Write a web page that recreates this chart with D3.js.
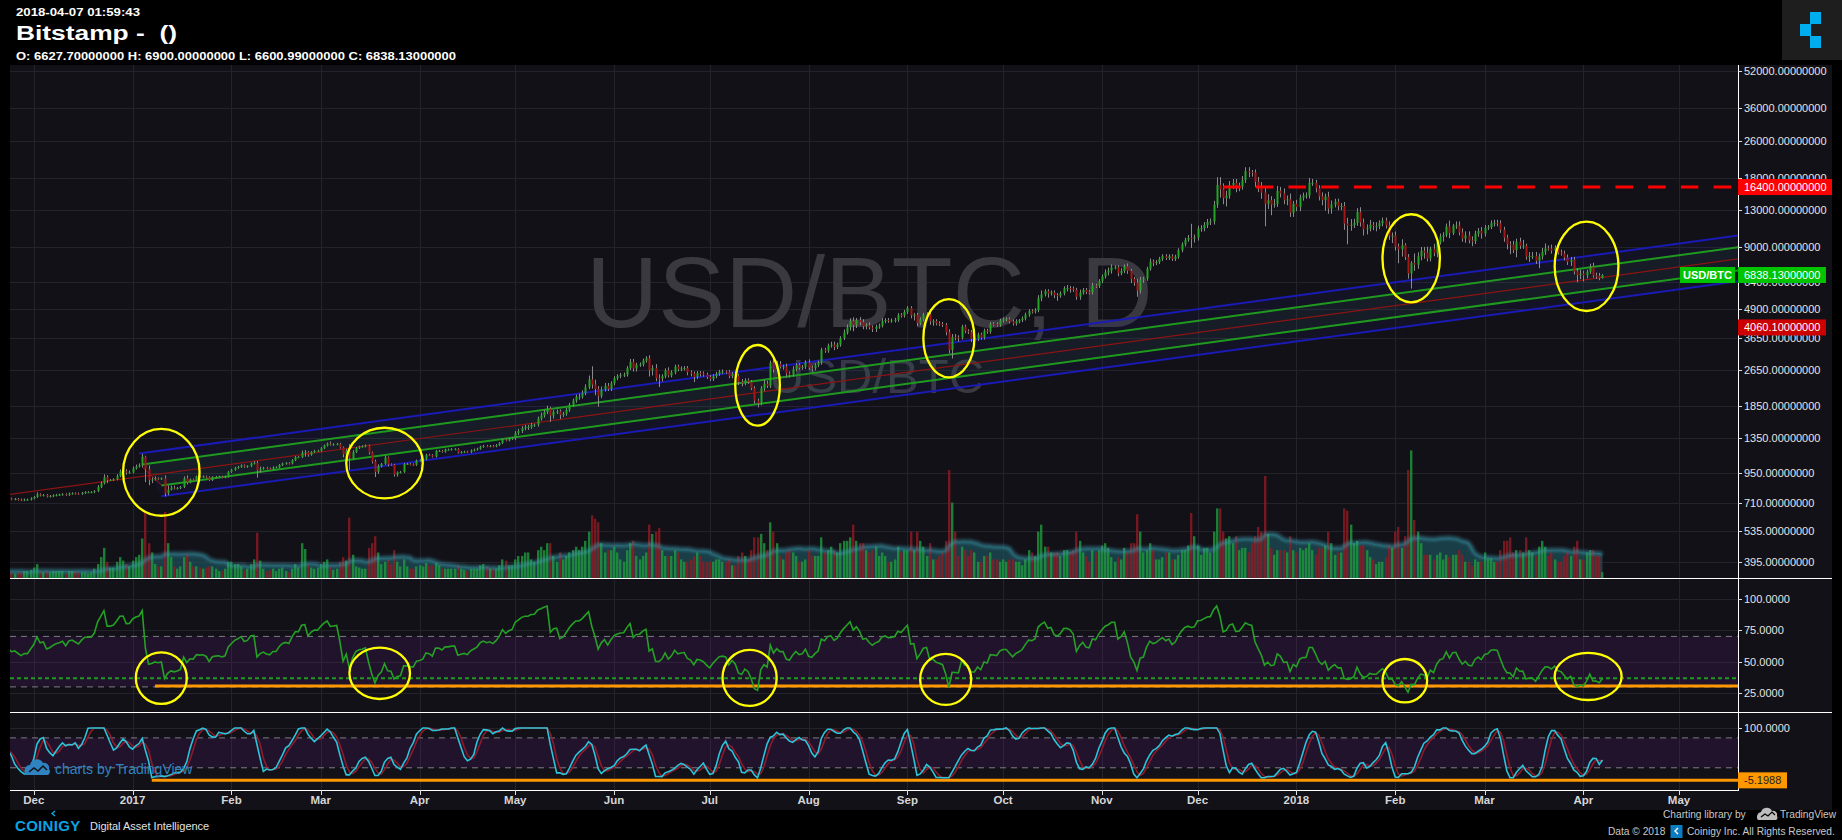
<!DOCTYPE html>
<html>
<head>
<meta charset="utf-8">
<title>Bitstamp USD/BTC</title>
<script src="https://cdnjs.cloudflare.com/ajax/libs/d3/7.8.5/d3.min.js"></script>
<style>
  html, body { margin: 0; padding: 0; background: #000; overflow: hidden; }
  svg { display: block; }
  text { font-family: "Liberation Sans", Arial, sans-serif; }
</style>
</head>
<body>
<svg id="chart" width="1842" height="840"></svg>
<script>
// one daily bar per entry, starting on this day (UTC); open = previous close
const firstDay = "2016-10-15";

const closes = [
  638,641,639,637,630,630,633,657,653,651,654,677,685,687,713,700,698,
  729,737,688,703,703,711,703,709,721,714,715,704,700,705,710,741,737,749,748,730,739,751,740,735,737,733,729,733,733,742,
  752,772,764,766,756,759,764,768,770,773,768,778,780,778,776,783,789,789,789,797,830,860,915,890,890,897,925,970,972,958,960,
  998,1018,1030,1122,990,890,895,905,900,905,780,810,825,818,822,830,905,870,895,893,922,920,922,915,890,915,918,920,915,920,965,
  985,1005,1015,1030,1015,1022,1050,1053,980,997,1005,998,995,1010,1010,1033,1048,1053,1050,1085,1118,1118,1170,1175,1145,1175,1190,1190,
  1222,1255,1280,1265,1270,1275,1230,1150,1190,1105,1175,1225,1240,1245,1255,1170,1070,965,1020,1045,1115,1040,1035,940,960,965,1045,1045,1040,1035,1080,
  1085,1095,1145,1140,1125,1190,1190,1180,1205,1205,1210,1210,1170,1175,1180,1175,1195,1205,1215,1240,1250,1245,1250,1245,1260,1285,1330,1320,1340,1350,
  1420,1450,1490,1510,1510,1540,1545,1640,1690,1750,1810,1690,1750,1760,1700,1720,1790,1880,1960,2040,2040,2110,2240,2420,2300,2200,2050,2190,2270,2200,2330,
  2450,2500,2530,2540,2710,2880,2700,2800,2810,2920,2990,2650,2710,2450,2440,2500,2650,2520,2600,2750,2680,2700,2710,2600,2570,2480,2580,2570,2540,2480,
  2430,2500,2560,2610,2620,2610,2500,2560,2510,2360,2330,2400,2360,2220,1960,1910,2220,2320,2270,2860,2670,2820,2750,2750,2570,2540,2680,2790,2720,2740,2870,
  2720,2700,2790,2860,3250,3220,3390,3420,3340,3420,3650,3860,4060,4320,4160,4370,4280,4110,4150,4060,4000,4090,4140,4320,4370,4340,4350,4380,4590,4570,4740,
  4920,4580,4600,4240,4400,4600,4630,4300,4320,4230,4200,4160,3870,3240,3690,3680,3670,4090,3910,3880,3620,3620,3780,3670,3930,3890,4200,4190,4170,4340,
  4400,4400,4310,4220,4320,4370,4440,4610,4770,4760,4820,5430,5640,5820,5690,5750,5600,5570,5700,5990,6010,5980,5900,5510,5740,5890,5770,5750,6150,6130,6440,
  6740,7020,7150,7380,7380,6960,7110,7450,7130,6570,6330,5860,6520,6590,7280,7820,7700,7780,8030,8240,8100,8240,8020,8200,8750,9280,9710,9890,9840,9930,
  10840,10890,11240,11590,11650,13750,16750,16050,14700,15060,16730,17090,16390,16470,17600,19200,19040,18950,17280,16420,15520,13880,14400,13770,13880,15800,15400,14400,14500,12700,13880,
  13440,14770,15060,15100,17100,17100,16200,14950,14400,14900,13240,13800,14180,13560,13580,11400,11180,11250,11500,12780,11530,10780,10880,11260,11120,11120,11440,11750,11200,10100,10130,
  9080,8830,9200,8180,6940,7700,7580,8240,8690,8550,8070,8880,8500,9450,10030,10160,11080,10380,11150,11200,10450,9820,10150,9660,9590,10310,10590,10330,
  10920,11020,11430,11500,11440,10720,9910,9290,9240,8770,9530,9140,9150,8200,8260,8270,7870,8220,8610,8910,8900,8720,8920,8550,8460,8140,7790,7950,7090,6840,6930,
  6820,7060,7430,6800,6780,6627.7,6838.13
];

// upper / lower shadow, percent beyond the candle body
const wickHi = [
  1,1,1,1,1,1,1,2,1,1,1,2,1,1,2,2,1,
  1,1,2,1,1,1,1,2,2,1,1,1,1,1,1,2,1,1,1,1,1,1,1,1,1,1,1,1,1,1,
  1,2,1,1,1,1,1,1,1,1,1,1,1,1,1,1,1,1,1,1,2,2,3,2,1,1,2,2,2,2,2,
  2,2,2,3,1,4,2,2,1,1,3,4,2,2,1,1,2,3,1,1,1,1,1,1,1,1,1,1,1,1,1,
  1,1,1,1,1,1,1,2,2,2,1,1,1,1,1,1,1,1,1,1,1,1,2,2,1,1,1,1,
  1,1,1,2,1,1,1,1,2,7,2,1,1,1,1,1,1,2,2,1,2,1,1,1,1,1,1,1,1,1,1,
  1,1,1,1,1,1,1,1,1,1,1,1,1,1,1,1,1,1,1,1,1,1,1,1,1,1,1,1,1,1,
  2,2,2,2,2,2,1,2,3,2,3,2,2,2,2,2,2,2,2,2,3,3,3,4,14,5,3,3,3,3,2,
  2,2,2,2,2,3,3,2,2,2,2,3,3,4,4,2,2,3,2,2,2,2,2,2,2,2,2,2,2,2,
  2,2,2,2,2,1,2,2,2,2,3,2,2,2,2,2,2,4,3,2,5,3,3,2,3,2,3,2,2,2,2,
  3,2,2,2,2,2,2,3,3,2,2,3,3,3,4,2,3,3,2,3,2,2,2,3,2,2,2,2,2,2,2,
  2,2,2,2,2,2,2,2,2,2,2,2,2,3,3,3,2,2,2,2,2,2,2,2,2,2,2,2,2,2,
  2,2,2,2,2,1,2,2,2,2,2,3,4,2,2,2,2,2,2,2,3,2,2,2,3,2,2,2,3,2,2,
  2,3,3,3,2,2,3,2,3,2,2,4,3,2,2,3,2,2,2,2,2,2,2,2,2,2,2,3,15,3,
  3,3,3,3,3,4,8,8,6,5,4,4,4,4,4,4,4,2,3,5,5,5,6,4,5,5,4,5,4,6,3,
  4,3,3,3,5,4,3,3,4,3,5,4,3,3,3,4,6,6,4,4,5,4,4,5,3,4,3,3,3,4,3,
  4,3,6,2,3,2,10,4,4,4,6,2,5,2,3,3,3,6,2,4,4,4,4,4,4,3,3,4,
  3,2,3,3,3,3,3,3,3,4,3,4,6,2,4,4,4,3,4,5,3,4,3,3,3,3,3,3,3,3,4,
  3,2,3,4,3,3,0.9
];
const wickLo = [
  1,1,1,1,1,1,1,1,1,1,1,1,1,1,1,2,1,
  1,1,3,1,1,1,1,2,2,1,1,1,1,1,1,1,1,1,1,1,1,1,1,1,1,1,1,1,1,1,
  1,1,1,1,1,1,1,1,1,1,1,1,1,1,1,1,1,1,1,1,1,1,1,3,1,1,1,1,2,2,1,
  1,1,1,2,12,5,3,1,1,1,3,2,1,1,1,1,1,2,1,1,1,1,1,1,1,1,1,1,1,1,1,
  1,1,1,1,1,1,1,1,7,2,1,1,1,1,1,1,1,1,1,1,1,1,1,4,2,1,1,1,
  1,1,1,1,1,1,1,3,2,11,1,1,1,1,1,2,2,5,2,1,1,2,1,2,2,1,1,1,1,1,1,
  1,1,1,1,1,1,1,1,1,1,1,1,1,1,1,1,1,1,1,1,1,1,1,1,1,1,1,1,1,1,
  2,2,2,2,3,2,2,2,2,2,2,6,3,2,4,2,2,2,2,2,3,2,2,2,4,6,10,2,2,2,2,
  2,2,2,2,2,2,3,3,2,2,2,6,5,3,8,3,2,2,2,2,2,2,2,3,3,5,2,3,2,2,
  2,2,2,2,2,2,2,2,2,3,3,2,2,2,3,4,2,3,2,2,3,2,2,3,4,3,2,2,2,2,2,
  2,3,2,2,2,2,2,2,3,2,2,2,2,3,6,3,3,3,3,2,3,3,2,2,2,2,2,2,2,2,2,
  2,3,5,3,2,2,2,3,4,2,2,2,3,3,8,3,4,2,2,2,3,2,2,2,2,2,2,2,2,2,
  2,2,2,2,2,2,2,2,2,2,2,2,3,2,4,2,3,5,2,2,3,4,2,3,3,2,2,2,2,2,2,
  2,2,3,3,2,3,2,2,3,4,3,6,3,3,2,2,3,2,2,2,2,2,2,2,2,2,2,2,9,4,
  3,3,3,3,3,3,3,8,6,8,3,4,5,4,3,3,5,4,5,5,6,20,5,10,3,3,4,4,5,4,4,
  4,4,3,3,3,3,4,4,5,10,5,5,3,4,4,6,17,5,3,3,4,6,5,3,4,5,3,3,3,4,7,
  4,13,7,3,5,14,6,4,4,6,3,3,3,4,2,5,2,5,2,3,3,3,4,3,5,3,3,5,
  3,2,2,3,3,3,4,5,9,3,7,3,3,3,5,3,3,7,3,3,2,3,5,2,2,3,3,4,3,7,4,
  6,3,2,2,3,2,0.4
];

// daily volume, thousands of BTC
const volumes = [
  4,3,4,4,4,3,3,5,4,4,4,6,5,5,7,5,5,
  7,6,9,6,5,5,5,8,10,6,5,4,5,6,6,8,6,7,5,6,5,7,6,5,4,5,5,6,6,7,
  9,12,6,5,6,5,6,6,6,6,4,6,6,6,5,5,5,4,5,8,12,18,26,14,9,9,14,18,15,12,10,
  15,18,20,34,57,30,22,12,10,10,57,30,18,10,8,10,18,20,14,10,10,9,8,9,10,10,8,6,6,8,14,
  14,12,12,10,7,8,12,16,39,15,8,6,7,8,6,8,9,6,5,8,12,9,30,25,12,9,8,9,
  12,14,16,10,7,8,14,18,15,52,20,10,9,8,8,26,30,36,22,12,14,16,12,24,14,10,16,10,8,8,10,
  11,10,13,11,11,13,11,8,8,8,8,8,11,8,7,6,8,8,8,11,12,10,8,8,8,11,16,15,11,11,
  16,19,19,22,22,16,14,24,27,24,30,30,19,14,22,16,19,22,24,27,24,27,32,40,54,51,48,30,22,24,24,
  27,22,16,14,24,30,32,19,16,19,22,46,38,40,43,24,19,19,19,24,22,16,14,14,16,19,22,19,14,14,
  14,14,16,16,14,14,16,11,11,19,22,19,16,24,35,35,38,30,24,48,40,30,19,16,22,24,22,19,14,14,16,
  24,19,19,19,35,22,24,27,24,22,30,32,32,35,46,32,30,30,24,22,24,27,19,22,19,14,14,16,27,22,24,
  24,40,24,40,32,27,19,30,16,16,19,22,32,93,65,40,19,27,24,19,24,22,14,14,19,19,22,16,16,14,
  16,14,16,16,14,14,11,16,24,22,19,40,46,27,27,22,22,22,19,24,24,22,24,40,32,22,19,14,24,22,24,
  28,30,26,18,14,18,16,26,22,30,30,55,40,22,24,30,24,16,16,18,22,22,16,16,20,24,24,28,56,36,
  28,20,26,26,22,40,60,60,40,34,36,30,36,24,26,26,22,30,36,44,40,88,38,26,20,24,24,24,22,36,24,
  22,26,24,26,30,24,20,26,26,28,40,30,20,22,22,60,58,46,30,32,28,28,24,18,16,12,14,14,18,28,26,
  40,44,26,36,93,110,50,40,30,20,20,20,16,20,22,16,20,18,20,20,24,20,14,14,10,16,14,14,
  22,17,17,14,14,24,32,32,35,22,24,24,22,35,24,22,19,27,32,27,19,22,16,14,14,19,22,19,27,32,16,
  16,22,24,24,19,19,5
];

const lastOHLC = [6627.70, 6900.00, 6600.99, 6838.13];
const stamp = "2018-04-07 01:59:43";

const priceTicks = [395, 535, 710, 950, 1350, 1850, 2650, 3650, 4900, 6400, 9000, 13000, 18000, 26000, 36000, 52000];
const rsiTicks = [100, 75, 50, 25];
const stochTicks = [100];
const rsiBand = [30, 70];
const stochBand = [20, 80];

// drawn lines: [date, price]
const medianLine = [["2016-11-23", 770], ["2018-05-20", 8040]];
const upperBlue = [["2017-01-03", 1158], ["2018-05-20", 10150]];
const upperGreen = [["2017-01-04", 1039], ["2018-05-20", 9035]];
const lowerGreen = [["2017-01-10", 843], ["2018-05-20", 7170]];
const lowerBlue = [["2017-01-10", 757], ["2018-05-20", 6440]];
const anchorLine = [["2017-01-04", 1013], ["2017-01-10", 847]];
const resistance = { from: "2017-12-09", price: 16400 };
const supportLabel = 4060.10;
const rsiSupport = { from: "2017-01-08", value: 30.8 };
const rsiDotted = 36.85;
const stochSupport = { from: "2017-01-07", value: -5.1988 };

// yellow marks: [from, to, low, high]
const priceCircles = [
  ["2016-12-29", "2017-01-22", 624, 1479],
  ["2017-03-09", "2017-04-02", 742, 1497],
  ["2017-07-09", "2017-07-23", 1528, 3409],
  ["2017-09-06", "2017-09-22", 2472, 5385],
  ["2018-01-28", "2018-02-15", 5210, 12510],
  ["2018-03-23", "2018-04-12", 4780, 11620]
];
const rsiCircles = [
  ["2017-01-02", "2017-01-18", 16.5, 57.4],
  ["2017-03-10", "2017-03-29", 20.4, 61.1],
  ["2017-07-05", "2017-07-22", 14.9, 59.3],
  ["2017-09-05", "2017-09-21", 15.7, 56.1],
  ["2018-01-28", "2018-02-11", 17.7, 52.1],
  ["2018-03-23", "2018-04-13", 19.6, 56.9]
];

const svg = d3.select("#chart");
const DAY = 864e5;
const t0 = Date.parse(firstDay);
const day = s => new Date(s);

const bars = closes.map((c, i) => {
  const o = i === 0 ? c : closes[i - 1];
  const top = Math.max(o, c), bot = Math.min(o, c);
  return {
    date: new Date(t0 + i * DAY), open: o, close: c,
    high: top * (1 + wickHi[i] / 100), low: bot * (1 - wickLo[i] / 100),
    volume: volumes[i]
  };
});

// layout
const left = 10, right = 1738, axisRight = 1832;
const mainP = { top: 65, bottom: 578 };
const rsiP = { top: 578, bottom: 712 };
const stP = { top: 712, bottom: 790 };
const bg = "#131118";

const x = d3.scaleUtc().domain([Date.UTC(2016, 10, 23, 13), Date.UTC(2018, 4, 19, 12)]).range([left, right]);
const y = d3.scaleLog().domain([336, 55200]).range([mainP.bottom, mainP.top]);
const yVol = d3.scaleLinear().domain([0, 100]).range([mainP.bottom, mainP.bottom - 116]);
const yRsi = d3.scaleLinear().domain([10.1, 116.3]).range([rsiP.bottom, rsiP.top]);
const ySt = d3.scaleLinear().domain([-24.6, 132]).range([stP.bottom, stP.top]);

// indicators
function calcRsi(vals, n) {
  const out = vals.map(() => null);
  let g = 0, l = 0;
  for (let i = 1; i < vals.length; i++) {
    const ch = vals[i] - vals[i - 1];
    const up = Math.max(ch, 0), dn = Math.max(-ch, 0);
    if (i <= n) {
      g += up / n; l += dn / n;
      if (i === n) out[i] = 100 - 100 / (1 + g / l);
    } else {
      g = (g * (n - 1) + up) / n;
      l = (l * (n - 1) + dn) / n;
      out[i] = l === 0 ? 100 : 100 - 100 / (1 + g / l);
    }
  }
  return out;
}
function sma(vals, n) {
  return vals.map((v, i) => {
    if (i < n - 1) return null;
    const win = vals.slice(i - n + 1, i + 1);
    if (win.some(w => w == null)) return null;
    return d3.mean(win);
  });
}
const rsi = calcRsi(closes, 14);
const stochRaw = rsi.map((r, i) => {
  if (i < 27) return null;
  const win = rsi.slice(i - 13, i + 1);
  const lo = d3.min(win), hi = d3.max(win);
  return hi === lo ? 50 : (r - lo) / (hi - lo) * 100;
});
const kLine = sma(stochRaw, 3);
const dLine = sma(kLine, 3);
const volMa = sma(volumes, 20);

const defs = svg.append("defs");
[["clipMain", mainP], ["clipRsi", rsiP], ["clipSt", stP]].forEach(([id, p]) => {
  defs.append("clipPath").attr("id", id).append("rect")
    .attr("x", left).attr("y", p.top).attr("width", right - left).attr("height", p.bottom - p.top);
});
defs.append("filter").attr("id", "glow").attr("x", "-5%").attr("y", "-50%").attr("width", "110%").attr("height", "200%")
  .append("feGaussianBlur").attr("stdDeviation", 1.6);

// backgrounds
svg.append("rect").attr("width", 1842).attr("height", 840).attr("fill", "#000");
svg.append("rect").attr("x", left).attr("y", mainP.top).attr("width", axisRight - left).attr("height", 810 - mainP.top).attr("fill", bg);

// header
const headFont = "'DejaVu Sans', Verdana, sans-serif";
svg.append("text").attr("x", 16).attr("y", 16).text(stamp)
  .attr("font-family", headFont).attr("font-weight", "bold").attr("font-size", 11).attr("fill", "#fff")
  .attr("textLength", 124).attr("lengthAdjust", "spacingAndGlyphs");
svg.append("text").attr("x", 16).attr("y", 39.5).text("Bitstamp -\u00a0\u00a0()")
  .attr("font-family", headFont).attr("font-weight", "bold").attr("font-size", 20).attr("fill", "#fff")
  .attr("textLength", 161).attr("lengthAdjust", "spacingAndGlyphs");
svg.append("text").attr("x", 16).attr("y", 60)
  .text(["O", "H", "L", "C"].map((k, i) => `${k}: ${lastOHLC[i].toFixed(8)}`).join(" "))
  .attr("font-family", headFont).attr("font-weight", "bold").attr("font-size", 11.5).attr("fill", "#fff")
  .attr("textLength", 440).attr("lengthAdjust", "spacingAndGlyphs");

// top right logo
svg.append("rect").attr("x", 1782).attr("y", 0).attr("width", 60).attr("height", 60).attr("fill", "#1e1e1e");
[[1810, 12], [1800, 24], [1810, 36]].forEach(([px, py]) => {
  svg.append("rect").attr("x", px).attr("y", py).attr("width", 11).attr("height", 12).attr("fill", "#00aeef");
});

// grid
const months = d3.utcMonth.range(Date.UTC(2016, 11, 1), Date.UTC(2018, 5, 1));
const grid = svg.append("g").attr("stroke", "#24222b").attr("stroke-width", 1).attr("shape-rendering", "crispEdges");
grid.selectAll("line.v").data(months).join("line")
  .attr("x1", d => Math.round(x(d)) + 0.5).attr("x2", d => Math.round(x(d)) + 0.5)
  .attr("y1", mainP.top).attr("y2", stP.bottom);
grid.selectAll("line.p").data(priceTicks).join("line")
  .attr("x1", left).attr("x2", right).attr("y1", d => Math.round(y(d)) + 0.5).attr("y2", d => Math.round(y(d)) + 0.5);
grid.selectAll("line.r").data(rsiTicks).join("line")
  .attr("x1", left).attr("x2", right).attr("y1", d => Math.round(yRsi(d)) + 0.5).attr("y2", d => Math.round(yRsi(d)) + 0.5);
grid.selectAll("line.s").data(stochTicks).join("line")
  .attr("x1", left).attr("x2", right).attr("y1", d => Math.round(ySt(d)) + 0.5).attr("y2", d => Math.round(ySt(d)) + 0.5);

// main pane
const mainG = svg.append("g").attr("clip-path", "url(#clipMain)");

mainG.append("text").attr("x", 586).attr("y", 327).text("USD/BTC, D")
  .attr("font-size", 100).attr("fill", "#3a3940");
mainG.append("text").attr("x", 769).attr("y", 393).text("USD/BTC")
  .attr("font-size", 49).attr("fill", "#3a3940");

// volume
const volPts = bars.map((b, i) => ({ date: b.date, ma: volMa[i] })).filter(d => d.ma != null);
mainG.append("path").datum(volPts)
  .attr("d", d3.area().x(d => x(d.date)).y0(mainP.bottom).y1(d => yVol(d.ma)).curve(d3.curveMonotoneX))
  .attr("fill", "#1d4e58").attr("opacity", 0.75);
mainG.selectAll("rect.vol").data(bars).join("rect")
  .attr("x", d => Math.round(x(d.date)) - 1).attr("width", 2.4)
  .attr("y", d => yVol(d.volume)).attr("height", d => mainP.bottom - yVol(d.volume))
  .attr("fill", d => d.close >= d.open ? "#1f9a3c" : "#8e1c24").attr("opacity", 0.8);
mainG.append("path").datum(volPts)
  .attr("d", d3.line().x(d => x(d.date)).y(d => yVol(d.ma)).curve(d3.curveMonotoneX))
  .attr("fill", "none").attr("stroke", "#3a9aab").attr("stroke-width", 4).attr("opacity", 0.55).attr("filter", "url(#glow)");

// channel
const pathOf = d3.line().x(d => x(day(d[0]))).y(d => y(d[1]));
mainG.append("path").attr("d", pathOf([upperBlue[0], upperBlue[1], lowerBlue[1], lowerBlue[0]]) + "Z")
  .attr("fill", "#2a2ad0").attr("opacity", 0.07);
mainG.append("path").attr("d", pathOf([upperGreen[0], upperGreen[1], lowerGreen[1], lowerGreen[0]]) + "Z")
  .attr("fill", "#2fa02f").attr("opacity", 0.08);
[[upperBlue, "#1a1ab4", 2], [lowerBlue, "#1a1ab4", 2], [upperGreen, "#1f9a1f", 2], [lowerGreen, "#1f9a1f", 2],
 [medianLine, "#8c1414", 1.2], [anchorLine, "#a01818", 1]].forEach(([pts, col, w]) => {
  mainG.append("path").attr("d", pathOf(pts)).attr("fill", "none").attr("stroke", col).attr("stroke-width", w);
});

// candles
const shown = bars.filter(b => b.date >= x.domain()[0] - DAY);
mainG.selectAll("line.wick").data(shown).join("line")
  .attr("x1", d => Math.round(x(d.date)) + 0.5).attr("x2", d => Math.round(x(d.date)) + 0.5)
  .attr("y1", d => y(d.high)).attr("y2", d => y(d.low))
  .attr("stroke", "#8a8a8a").attr("stroke-width", 1);
mainG.selectAll("rect.body").data(shown).join("rect")
  .attr("x", d => Math.round(x(d.date)) - 0.5).attr("width", 2)
  .attr("y", d => y(Math.max(d.open, d.close)))
  .attr("height", d => Math.max(1, y(Math.min(d.open, d.close)) - y(Math.max(d.open, d.close))))
  .attr("fill", d => d.close >= d.open ? "#24a424" : "#a51616");

// 16400 level
mainG.append("line").attr("x1", x(day(resistance.from))).attr("x2", right)
  .attr("y1", y(resistance.price)).attr("y2", y(resistance.price))
  .attr("stroke", "#ff0000").attr("stroke-width", 3).attr("stroke-dasharray", "17.5,15.2");

const markEllipse = (g, data, ys) => g.selectAll("ellipse.mark").data(data).join("ellipse")
  .attr("cx", d => (x(day(d[0])) + x(day(d[1]))) / 2)
  .attr("cy", d => (ys(d[2]) + ys(d[3])) / 2)
  .attr("rx", d => (x(day(d[1])) - x(day(d[0]))) / 2)
  .attr("ry", d => Math.abs(ys(d[2]) - ys(d[3])) / 2)
  .attr("fill", "none").attr("stroke", "#ffff00").attr("stroke-width", 2.3);
markEllipse(mainG, priceCircles, y);

// RSI pane
const rsiG = svg.append("g").attr("clip-path", "url(#clipRsi)");
rsiG.append("rect").attr("x", left).attr("width", right - left)
  .attr("y", yRsi(rsiBand[1])).attr("height", yRsi(rsiBand[0]) - yRsi(rsiBand[1]))
  .attr("fill", "#9a28c8").attr("opacity", 0.11);
rsiG.selectAll("line.band").data(rsiBand).join("line")
  .attr("x1", left).attr("x2", right).attr("y1", d => yRsi(d)).attr("y2", d => yRsi(d))
  .attr("stroke", "#7c7c84").attr("stroke-dasharray", "6,5");
rsiG.append("line").attr("x1", x(day(rsiSupport.from))).attr("x2", right)
  .attr("y1", yRsi(rsiSupport.value)).attr("y2", yRsi(rsiSupport.value))
  .attr("stroke", "#ff9800").attr("stroke-width", 3);
rsiG.append("line").attr("x1", left).attr("x2", right)
  .attr("y1", yRsi(rsiDotted)).attr("y2", yRsi(rsiDotted))
  .attr("stroke", "#1f9a1f").attr("stroke-width", 2).attr("stroke-dasharray", "4,3");
rsiG.append("path").datum(bars.map((b, i) => ({ date: b.date, v: rsi[i] })))
  .attr("d", d3.line().defined(d => d.v != null).x(d => x(d.date)).y(d => yRsi(d.v)))
  .attr("fill", "none").attr("stroke", "#24a024").attr("stroke-width", 1.6);
markEllipse(rsiG, rsiCircles, yRsi);

// Stoch RSI pane
const stG = svg.append("g").attr("clip-path", "url(#clipSt)");
stG.append("rect").attr("x", left).attr("width", right - left)
  .attr("y", ySt(stochBand[1])).attr("height", ySt(stochBand[0]) - ySt(stochBand[1]))
  .attr("fill", "#9a28c8").attr("opacity", 0.11);
stG.selectAll("line.band").data(stochBand).join("line")
  .attr("x1", left).attr("x2", right).attr("y1", d => ySt(d)).attr("y2", d => ySt(d))
  .attr("stroke", "#7c7c84").attr("stroke-dasharray", "6,5");
stG.append("line").attr("x1", x(day(stochSupport.from))).attr("x2", right)
  .attr("y1", ySt(stochSupport.value)).attr("y2", ySt(stochSupport.value))
  .attr("stroke", "#ff9800").attr("stroke-width", 3);
const stLine = d3.line().defined(d => d.v != null).x(d => x(d.date)).y(d => ySt(d.v));
stG.append("path").datum(bars.map((b, i) => ({ date: b.date, v: dLine[i] })))
  .attr("d", stLine).attr("fill", "none").attr("stroke", "#8e1a2c").attr("stroke-width", 1.6);
stG.append("path").datum(bars.map((b, i) => ({ date: b.date, v: kLine[i] })))
  .attr("d", stLine).attr("fill", "none").attr("stroke", "#2cc4d8").attr("stroke-width", 1.6);

// charts by TradingView mark
const tv = svg.append("g").attr("fill", "#2f83c0");
tv.append("path").attr("d", "M26,775 a6,6 0 0 1 4,-10 a7,7 0 0 1 13,-2 a5,5 0 0 1 6,6 a4,4 0 0 1 -1,6 z");
tv.append("path").attr("d", "M29,772 l5,-4 l4,3 l5,-5 l4,4").attr("fill", "none").attr("stroke", bg).attr("stroke-width", 1.5);
tv.append("text").attr("x", 55).attr("y", 774).text("charts by TradingView").attr("font-size", 14);

// pane borders and axis
const frame = svg.append("g").attr("stroke", "#fff").attr("shape-rendering", "crispEdges");
frame.append("line").attr("x1", left).attr("x2", axisRight).attr("y1", mainP.bottom + 0.5).attr("y2", mainP.bottom + 0.5);
frame.append("line").attr("x1", left).attr("x2", axisRight).attr("y1", rsiP.bottom + 0.5).attr("y2", rsiP.bottom + 0.5);
frame.append("line").attr("x1", left).attr("x2", right).attr("y1", stP.bottom + 0.5).attr("y2", stP.bottom + 0.5);
frame.append("line").attr("x1", right + 0.5).attr("x2", right + 0.5).attr("y1", mainP.top).attr("y2", stP.bottom + 1);

// price axis labels
const axisText = (g, data, ys, fmt) => {
  g.selectAll("line.tk").data(data).join("line")
    .attr("x1", right).attr("x2", right + 4).attr("y1", d => Math.round(ys(d)) + 0.5).attr("y2", d => Math.round(ys(d)) + 0.5)
    .attr("stroke", "#ddd").attr("shape-rendering", "crispEdges");
  g.selectAll("text.tl").data(data).join("text")
    .attr("x", right + 6).attr("y", d => ys(d) + 4).text(fmt)
    .attr("font-size", 11).attr("fill", "#e4e4e4");
};
axisText(svg.append("g"), priceTicks, y, d => d.toFixed(8));
axisText(svg.append("g"), rsiTicks, yRsi, d => d.toFixed(4));
axisText(svg.append("g"), stochTicks, ySt, d => d.toFixed(4));

const tag = (val, ys, fill, w, txt, txtFill) => {
  const cy = ys(val);
  svg.append("rect").attr("x", right).attr("y", cy - 8).attr("width", w).attr("height", 16).attr("fill", fill);
  svg.append("text").attr("x", right + 6).attr("y", cy + 4).text(txt).attr("font-size", 11).attr("fill", txtFill);
};
tag(resistance.price, y, "#ff0000", axisRight - right, resistance.price.toFixed(8), "#fff");
tag(lastOHLC[3], y, "#00c400", 88, lastOHLC[3].toFixed(8), "#fff");
tag(supportLabel, y, "#cc0000", 88, supportLabel.toFixed(8), "#fff");
tag(stochSupport.value, ySt, "#ff9800", 49, stochSupport.value.toFixed(4), "#222");
svg.append("rect").attr("x", 1680).attr("y", y(lastOHLC[3]) - 8).attr("width", 55).attr("height", 16).attr("fill", "#00c400");
svg.append("text").attr("x", 1707.5).attr("y", y(lastOHLC[3]) + 4).attr("text-anchor", "middle").text("USD/BTC")
  .attr("font-size", 11).attr("font-weight", "bold").attr("fill", "#fff");

// time axis
const timeAxis = svg.append("g");
timeAxis.selectAll("line").data(months).join("line")
  .attr("x1", d => Math.round(x(d)) + 0.5).attr("x2", d => Math.round(x(d)) + 0.5)
  .attr("y1", stP.bottom).attr("y2", stP.bottom + 5).attr("stroke", "#ddd");
timeAxis.selectAll("text").data(months).join("text")
  .attr("x", d => x(d)).attr("y", 804).attr("text-anchor", "middle")
  .text(d => d.getUTCMonth() === 0 ? d3.utcFormat("%Y")(d) : d3.utcFormat("%b")(d))
  .attr("font-family", "'Liberation Sans Narrow', 'Liberation Sans', Arial").attr("font-weight", "bold")
  .attr("font-size", 11.5).attr("fill", "#d6d6d6");

// footer
svg.append("path").attr("d", "M55,811 l-3,2.5 l3,2.5").attr("fill", "none").attr("stroke", "#09a3e0").attr("stroke-width", 1.5);
svg.append("text").attr("x", 15).attr("y", 831).text("COINIGY")
  .attr("font-size", 15).attr("font-weight", "bold").attr("fill", "#09a3e0").attr("letter-spacing", 0.3);
svg.append("text").attr("x", 90).attr("y", 830).text("Digital Asset Intelligence")
  .attr("font-size", 11).attr("fill", "#e2e2e2");

const foot = (tx, xPos, yPos) => svg.append("text").attr("x", xPos).attr("y", yPos).text(tx)
  .attr("font-size", 10.2).attr("fill", "#c8c8c8");
foot("Charting library by", 1663, 818);
svg.append("path").attr("d", "M1758,820 a5,5 0 0 1 3,-8 a6,6 0 0 1 11,-1 a4,4 0 0 1 5,5 a3,3 0 0 1 -1,4 z").attr("fill", "#bdbdbd");
svg.append("path").attr("d", "M1761,817 l4,-3 l3,2 l4,-4 l3,3").attr("fill", "none").attr("stroke", "#000").attr("stroke-width", 1.2);
foot("TradingView", 1780, 818);
foot("Data © 2018", 1608, 835);
svg.append("rect").attr("x", 1670.5).attr("y", 825).attr("width", 12).attr("height", 13).attr("fill", "#0c7cc0");
svg.append("path").attr("d", "M1678,828 l-3,3 l3,3").attr("fill", "none").attr("stroke", "#fff").attr("stroke-width", 1.4);
foot("Coinigy Inc. All Rights Reserved.", 1687, 835);
</script>
</body>
</html>
